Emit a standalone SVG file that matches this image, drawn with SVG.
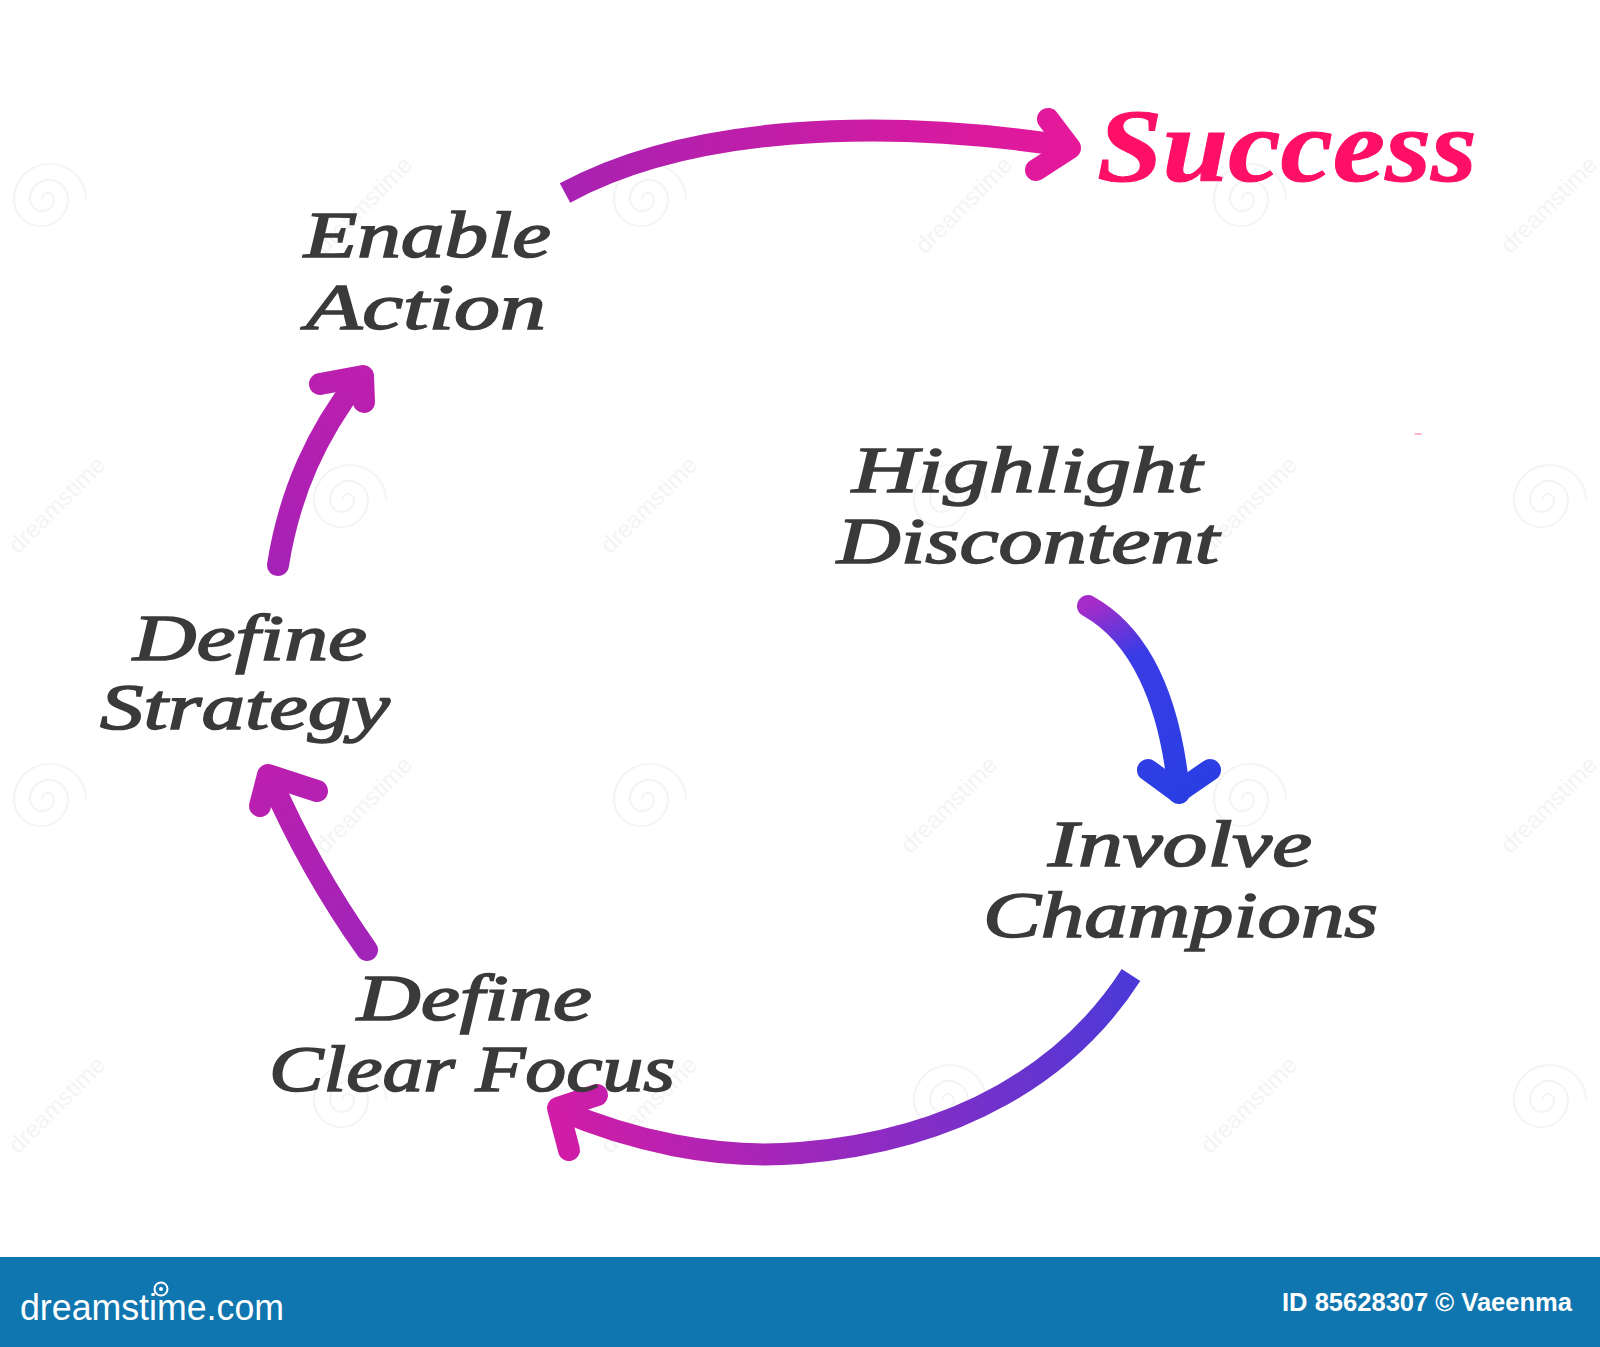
<svg xmlns="http://www.w3.org/2000/svg" xmlns:xlink="http://www.w3.org/1999/xlink" width="1600" height="1347" viewBox="0 0 1600 1347">
  <style>
    .lbl{font-family:"Liberation Serif","DejaVu Serif",serif;font-style:italic;font-size:66px;fill:#3a3a3a;stroke:#3a3a3a;stroke-width:1.6px}
    .succ{font-family:"Liberation Serif","DejaVu Serif",serif;font-style:italic;font-weight:bold;font-size:104px;fill:#ff0f66;stroke:#ff0f66;stroke-width:1px}
    .arrow{fill:none;stroke-width:22;stroke-linejoin:round}
    .wm{fill:none;stroke:#f4f4f4;stroke-width:2}
    .wmt{font-family:"Liberation Sans",sans-serif;font-size:24px;fill:#f4f4f4}
    .foot{fill:#fff;font-family:"Liberation Sans",sans-serif}
  </style>
  <defs>
    <linearGradient id="g1" gradientUnits="userSpaceOnUse" x1="560" y1="0" x2="1080" y2="0"><stop offset="0" stop-color="#a722b2"/><stop offset="1" stop-color="#e6189a"/></linearGradient>
    <linearGradient id="g2" gradientUnits="userSpaceOnUse" x1="278" y1="570" x2="367" y2="371"><stop offset="0" stop-color="#a622b6"/><stop offset="1" stop-color="#bd1fae"/></linearGradient>
    <linearGradient id="g3" gradientUnits="userSpaceOnUse" x1="365" y1="954" x2="267" y2="772"><stop offset="0" stop-color="#a024b8"/><stop offset="1" stop-color="#bb1fb0"/></linearGradient>
    <linearGradient id="g4" gradientUnits="userSpaceOnUse" x1="1135" y1="975" x2="556" y2="1110"><stop offset="0" stop-color="#4a3ad8"/><stop offset="0.45" stop-color="#8a2cc4"/><stop offset="1" stop-color="#d01ca6"/></linearGradient>
    <linearGradient id="g5" gradientUnits="userSpaceOnUse" x1="1088" y1="606" x2="1179" y2="798"><stop offset="0" stop-color="#a52cc8"/><stop offset="0.3" stop-color="#3a3ce6"/><stop offset="1" stop-color="#2a3ee4"/></linearGradient>
    <g id="sp"><path class="wm" d="M0 0a6 6 0 0 1 12 0a12 12 0 0 1-24 0a19 19 0 0 1 38 0a27 27 0 0 1-54 0a36 35 0 0 1 72 0"/></g>
  </defs>

  <rect width="1600" height="1347" fill="#fff"/>

  <g id="watermark">
    <use xlink:href="#sp" href="#sp" x="42" y="199"/><use xlink:href="#sp" href="#sp" x="642" y="199"/><use xlink:href="#sp" href="#sp" x="1242" y="199"/>
    <use xlink:href="#sp" href="#sp" x="342" y="500"/><use xlink:href="#sp" href="#sp" x="942" y="500"/><use xlink:href="#sp" href="#sp" x="1542" y="500"/>
    <use xlink:href="#sp" href="#sp" x="42" y="799"/><use xlink:href="#sp" href="#sp" x="642" y="799"/><use xlink:href="#sp" href="#sp" x="1242" y="799"/>
    <use xlink:href="#sp" href="#sp" x="342" y="1100"/><use xlink:href="#sp" href="#sp" x="942" y="1100"/><use xlink:href="#sp" href="#sp" x="1542" y="1100"/>
    <text class="wmt" transform="translate(325 255) rotate(-45)">dreamstime</text>
    <text class="wmt" transform="translate(925 255) rotate(-45)">dreamstime</text>
    <text class="wmt" transform="translate(1510 255) rotate(-45)">dreamstime</text>
    <text class="wmt" transform="translate(18 555) rotate(-45)">dreamstime</text>
    <text class="wmt" transform="translate(610 555) rotate(-45)">dreamstime</text>
    <text class="wmt" transform="translate(1210 555) rotate(-45)">dreamstime</text>
    <text class="wmt" transform="translate(325 855) rotate(-45)">dreamstime</text>
    <text class="wmt" transform="translate(910 855) rotate(-45)">dreamstime</text>
    <text class="wmt" transform="translate(1510 855) rotate(-45)">dreamstime</text>
    <text class="wmt" transform="translate(18 1155) rotate(-45)">dreamstime</text>
    <text class="wmt" transform="translate(610 1155) rotate(-45)">dreamstime</text>
    <text class="wmt" transform="translate(1210 1155) rotate(-45)">dreamstime</text>
    <ellipse cx="1418" cy="434" rx="4" ry="1" fill="#f7b0c8"/>
  </g>

  <g id="connectors">
    <g class="arrow" stroke="url(#g1)">
      <path d="M565 193C690 125 880 118 1066 146"/>
      <path stroke-linecap="round" d="M1048 119L1070 148L1036 170"/>
    </g>
    <g class="arrow" stroke="url(#g2)">
      <path stroke-linecap="round" d="M278 565C290 490 318 432 358 380"/>
      <path stroke-linecap="round" d="M320 384L363 376L364 402"/>
    </g>
    <g class="arrow" stroke="url(#g3)">
      <path stroke-linecap="round" d="M367 950C328 895 297 840 270 778"/>
      <path stroke-linecap="round" d="M317 791L268 775L260 806"/>
    </g>
    <g class="arrow" stroke="url(#g4)">
      <path d="M1131 975C1070 1070 960 1140 800 1153C715 1160 630 1140 560 1110"/>
      <path stroke-linecap="round" d="M597 1095L558 1108L569 1150"/>
    </g>
    <g class="arrow" stroke="url(#g5)">
      <path stroke-linecap="round" d="M1088 606C1140 635 1170 700 1179 793"/>
      <path stroke-linecap="round" d="M1148 770L1178 792L1210 770"/>
    </g>
  </g>

  <g id="node-success"><text class="succ" x="1097" y="181" textLength="380" lengthAdjust="spacingAndGlyphs">Success</text></g>
  <g id="node-enable-action">
    <text class="lbl" x="304" y="257" textLength="247" lengthAdjust="spacingAndGlyphs">Enable</text>
    <text class="lbl" x="306" y="329" textLength="240" lengthAdjust="spacingAndGlyphs">Action</text>
  </g>
  <g id="node-define-strategy">
    <text class="lbl" x="133" y="660" textLength="234" lengthAdjust="spacingAndGlyphs">Define</text>
    <text class="lbl" x="100" y="729" textLength="290" lengthAdjust="spacingAndGlyphs">Strategy</text>
  </g>
  <g id="node-define-clear-focus">
    <text class="lbl" x="357" y="1020" textLength="235" lengthAdjust="spacingAndGlyphs">Define</text>
    <text class="lbl" x="269" y="1091" textLength="406" lengthAdjust="spacingAndGlyphs">Clear Focus</text>
  </g>
  <g id="node-highlight-discontent">
    <text class="lbl" x="852" y="492" textLength="350" lengthAdjust="spacingAndGlyphs">Highlight</text>
    <text class="lbl" x="837" y="563" textLength="382" lengthAdjust="spacingAndGlyphs">Discontent</text>
  </g>
  <g id="node-involve-champions">
    <text class="lbl" x="1048" y="866" textLength="264" lengthAdjust="spacingAndGlyphs">Involve</text>
    <text class="lbl" x="983" y="937" textLength="395" lengthAdjust="spacingAndGlyphs">Champions</text>
  </g>

  <g id="footer">
    <rect y="1257" width="1600" height="90" fill="#0f76b0"/>
    <text class="foot" x="20" y="1320" font-size="36" textLength="264" lengthAdjust="spacingAndGlyphs">dreamstime.com</text>
    <circle cx="161" cy="1289" r="6.5" fill="none" stroke="#fff" stroke-width="2"/><circle cx="161" cy="1289" r="2" fill="#fff"/>
    <text class="foot" x="1282" y="1311" font-size="25" font-weight="bold" textLength="290" lengthAdjust="spacingAndGlyphs">ID 85628307 © Vaeenma</text>
  </g>
</svg>
